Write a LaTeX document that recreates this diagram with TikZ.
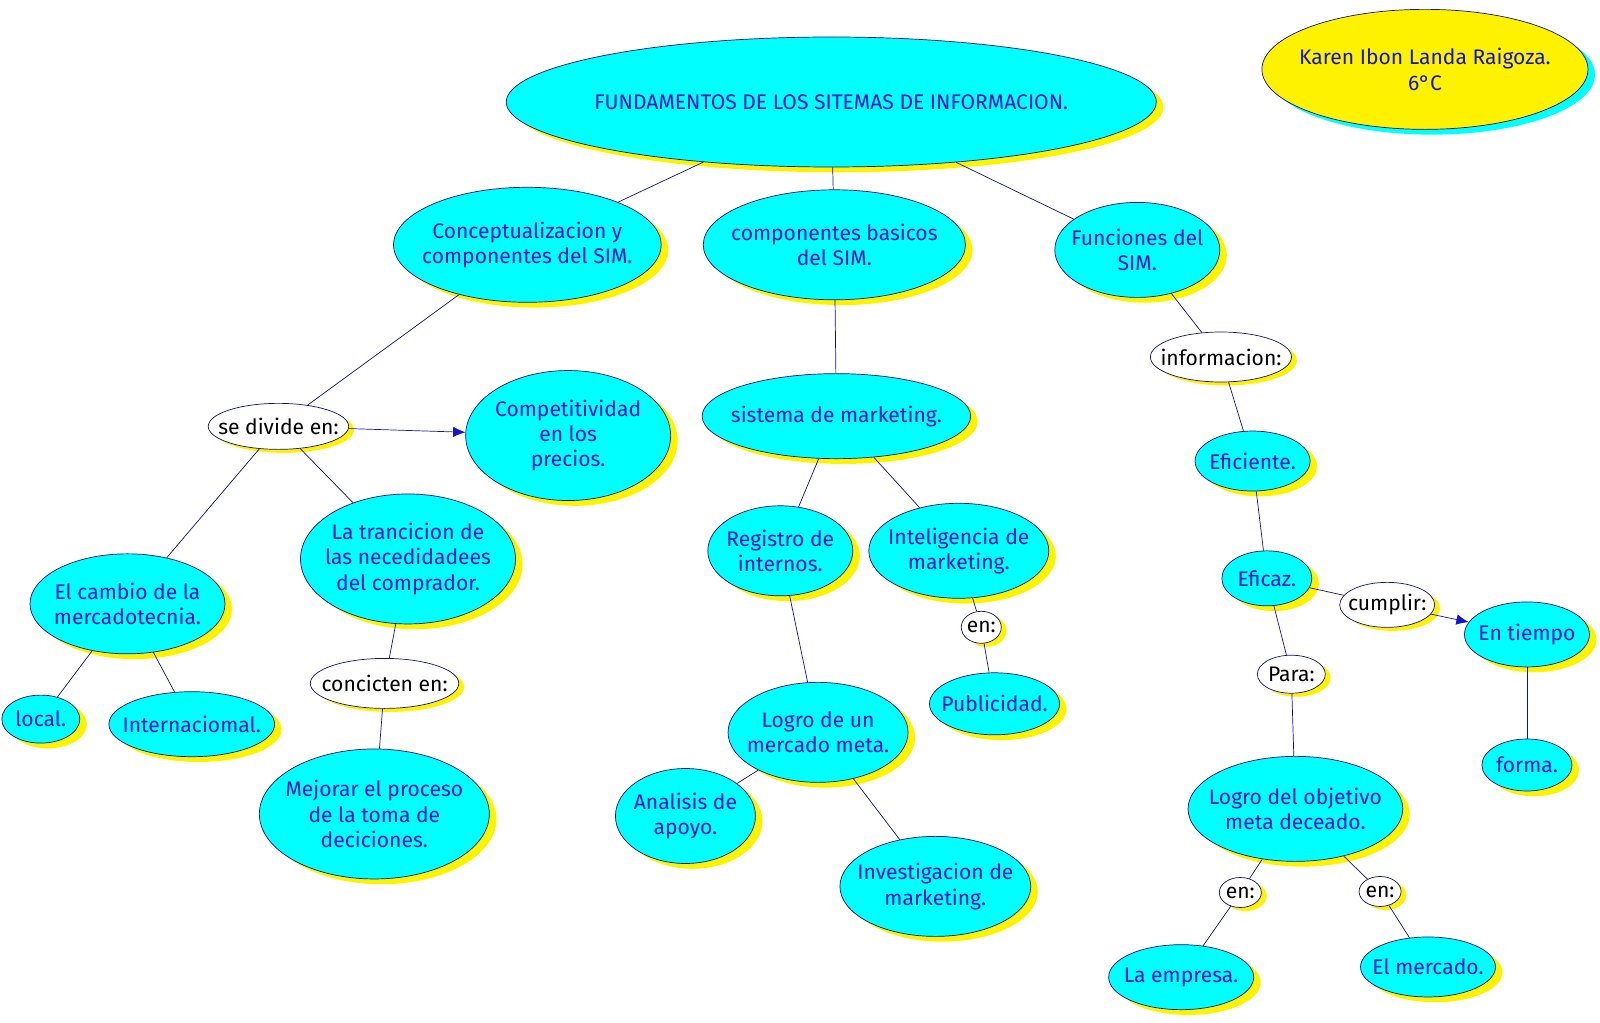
\documentclass[tikz,border=0pt]{standalone}
\usepackage{fontspec}
\setmainfont{Fira Sans}
\usetikzlibrary{shapes.geometric,arrows.meta}
\definecolor{cy}{RGB}{0,255,255}
\definecolor{tb}{RGB}{20,20,200}
\definecolor{ln}{RGB}{20,20,120}
\begin{document}
\begin{tikzpicture}[x=0.02cm,y=-0.02cm,
 every node/.style={font=\fontsize{12}{14.5}\selectfont, align=center, inner xsep=-6pt, inner ysep=-2pt},
 cn/.style={ellipse, draw=ln, fill=cy, text=tb, thin,
   preaction={fill=yellow, transform canvas={shift={(4pt,-3pt)}}}},
 wn/.style={ellipse, draw=ln, fill=white, text=black, thin,
   preaction={fill=yellow, transform canvas={shift={(3pt,-2pt)}}}},
 sz/.style 2 args={minimum width=#1*0.02cm, minimum height=#2*0.02cm},
 ed/.style={draw=ln, thin},
 ar/.style={draw=tb, thin, -{Latex[length=7pt,width=6pt]}}]
\useasboundingbox (0,0) rectangle (1600,1023);
\clip (0,0) rectangle (1600,1023);
\begin{scope}[scale=1.02]
\node[cn,sz={650}{130}] (title) at (815,100) {FUNDAMENTOS DE LOS SITEMAS DE INFORMACION.};
\node[ellipse,draw=ln,fill=yellow,text=tb,sz={300}{120},preaction={fill=cy, transform canvas={shift={(4pt,-3pt)}}}] (author) at (1397,68) {Karen Ibon Landa Raigoza.\\6°C};
\node[cn,sz={245}{115}] (concept) at (517,240) {Conceptualizacion y\\componentes del SIM.};
\node[cn,sz={235}{110}] (comp) at (818,240) {componentes basicos\\del SIM.};
\node[cn,sz={165}{95}] (func) at (1115,245) {Funciones del\\SIM.};
\node[wn,sz={130}{50}] (info) at (1197,350) {informacion:};
\node[wn,sz={130}{46}] (sed) at (273,418) {se divide en:};
\node[cn,sz={205}{130}] (compet) at (557,427) {Competitividad\\en los\\precios.};
\node[cn,sz={240}{85}] (sist) at (820,408) {sistema de marketing.};
\node[cn,sz={115}{60}] (efte) at (1228,452) {Eficiente.};
\node[cn,sz={145}{90}] (reg) at (765,540) {Registro de\\internos.};
\node[cn,sz={180}{95}] (intel) at (940,540) {Inteligencia de\\marketing.};
\node[cn,sz={195}{100}] (camb) at (125,592) {El cambio de la\\mercadotecnia.};
\node[cn,sz={215}{130}] (tran) at (400,548) {La trancicion de\\las necedidadees\\del comprador.};
\node[cn,sz={90}{55}] (efaz) at (1242,567) {Eficaz.};
\node[wn,sz={95}{45}] (cump) at (1360,593) {cumplir:};
\node[cn,sz={125}{65}] (tiem) at (1497,622) {En tiempo};
\node[wn,sz={40}{32}] (en1) at (962,615) {en:};
\node[wn,sz={68}{38}] (para) at (1266,661) {Para:};
\node[wn,sz={135}{50}] (conc) at (377,670) {concicten en:};
\node[cn,sz={78}{48}] (local) at (40,705) {local.};
\node[cn,sz={160}{65}] (inter) at (188,710) {Internaciomal.};
\node[cn,sz={130}{62}] (publ) at (975,690) {Publicidad.};
\node[cn,sz={180}{100}] (logro) at (802,718) {Logro de un\\mercado meta.};
\node[cn,sz={90}{52}] (forma) at (1497,750) {forma.};
\node[cn,sz={230}{130}] (mej) at (367,798) {Mejorar el proceso\\de la toma de\\deciciones.};
\node[cn,sz={140}{95}] (anal) at (672,800) {Analisis de\\apoyo.};
\node[cn,sz={205}{105}] (lobj) at (1270,793) {Logro del objetivo\\meta deceado.};
\node[cn,sz={190}{100}] (inv) at (917,869) {Investigacion de\\marketing.};
\node[wn,sz={42}{30}] (en2) at (1216,875) {en:};
\node[wn,sz={42}{30}] (en3) at (1353,874) {en:};
\node[cn,sz={145}{65}] (emp) at (1158,958) {La empresa.};
\node[cn,sz={135}{60}] (merc) at (1400,948) {El mercado.};
\end{scope}
\draw[ed] (title)--(concept); \draw[ed] (title)--(comp); \draw[ed] (title)--(func);
\draw[ed] (concept)--(sed); \draw[ar] (sed)--(compet);
\draw[ed] (sed)--(camb); \draw[ed] (sed)--(tran);
\draw[ed] (camb)--(local); \draw[ed] (camb)--(inter);
\draw[ed] (tran)--(conc); \draw[ed] (conc)--(mej);
\draw[ed] (comp)--(sist); \draw[ed] (sist)--(reg); \draw[ed] (sist)--(intel);
\draw[ed] (reg)--(logro); \draw[ed] (logro)--(anal); \draw[ed] (logro)--(inv);
\draw[ed] (intel)--(en1); \draw[ed] (en1)--(publ);
\draw[ed] (func)--(info); \draw[ed] (info)--(efte); \draw[ed] (efte)--(efaz);
\draw[ed] (efaz)--(cump); \draw[ar] (cump)--(tiem); \draw[ed] (tiem)--(forma);
\draw[ed] (efaz)--(para); \draw[ed] (para)--(lobj);
\draw[ed] (lobj)--(en2); \draw[ed] (en2)--(emp);
\draw[ed] (lobj)--(en3); \draw[ed] (en3)--(merc);
\end{tikzpicture}
\end{document}
